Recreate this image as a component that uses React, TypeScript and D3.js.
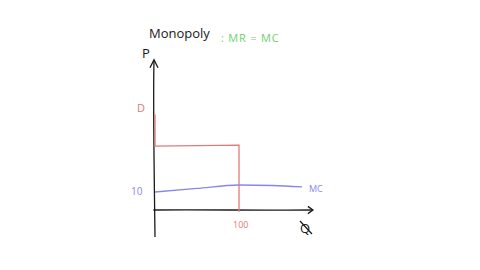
import React from "react";
import * as d3 from "d3";

const titleText = "Monopoly";
const conditionText = ": MR = MC";
const axisLabels = ["P", "Q"];
const demandLabel = "D";
const quantityTick = "100";
const priceTick = "10";
const mcLabel = "MC";

// MC curve points [Q, P]
const mcQ = [0, 50, 100, 140, 175];
const mcP = [10, 12, 13.9, 13.6, 12.8];
// monopoly output / price
const monoQ = [100];
const monoP = [35.5];
const demandTop = [53];

export default function App() {
  const W = 480, H = 270;
  const x = d3.scaleLinear().domain([0, 100]).range([155, 239]);
  const y = d3.scaleLinear().domain([0, 10]).range([210, 192]);
  const line = d3.line<number>().x((_, i) => x(mcQ[i])).y((d) => y(d)).curve(d3.curveMonotoneX);
  const red = "#e07a7a";
  const purple = "#8a85ee";
  const green = "#6fcf6f";
  const ink = "#1a1a1a";
  const font = "'Open Sans', sans-serif";
  const q = monoQ[0], p = monoP[0];
  return (
    <svg width={W} height={H} style={{ position: "absolute", left: 0, top: 0, background: "#fff" }}>
      <rect width={W} height={H} fill="#fff" />
      <text x={149} y={38} fontFamily={font} fontSize={13} fill={ink} fontWeight={400}>{titleText}</text>
      <text x={221} y={42} fontFamily={font} fontSize={11} fill={green} letterSpacing={0.8}>{conditionText}</text>
      {/* axes */}
      <path d={`M${x(0)},${y(-15)} C${x(0) - 1},${y(30)} ${x(0) - 2},${y(60)} ${x(0) - 1},${y(83)}`} fill="none" stroke={ink} strokeWidth={1.3} />
      <path d={`M${x(0) - 5},${y(79)} L${x(0) - 1},${y(83.5)} L${x(0) + 3},${y(79)}`} fill="none" stroke={ink} strokeWidth={1.3} />
      <path d={`M${x(-2)},${y(0)} C${x(60)},${y(0.3)} ${x(120)},${y(-0.3)} ${x(187)},${y(0)}`} fill="none" stroke={ink} strokeWidth={1.3} />
      <path d={`M${x(182)},${y(-2)} L${x(188)},${y(0)} L${x(182)},${y(2)}`} fill="none" stroke={ink} strokeWidth={1.3} />
      <text x={142} y={58} fontFamily={font} fontSize={13} fill={ink} fontWeight={400}>{axisLabels[0]}</text>
      <text x={300} y={233} fontFamily={font} fontSize={13} fill={ink} fontWeight={400}>{axisLabels[1]}</text>
      <line x1={300} y1={221} x2={312} y2={234} stroke={ink} strokeWidth={1.2} />
      {/* demand / monopoly box */}
      <path d={`M${x(0)},${y(demandTop[0])} L${x(0)},${y(p)} L${x(q)},${y(p + 0.5)} L${x(q)},${y(-1)}`} fill="none" stroke={red} strokeWidth={1.3} />
      <text x={137} y={112} fontFamily={font} fontSize={11} fill={red}>{demandLabel}</text>
      <text x={233} y={228} fontFamily={font} fontSize={9} fill={red}>{quantityTick}</text>
      {/* MC */}
      <path d={line(mcP) || ""} fill="none" stroke={purple} strokeWidth={1.3} />
      <text x={131} y={195} fontFamily={font} fontSize={10} fill={purple}>{priceTick}</text>
      <text x={309} y={192} fontFamily={font} fontSize={9} fill={purple}>{mcLabel}</text>
    </svg>
  );
}
